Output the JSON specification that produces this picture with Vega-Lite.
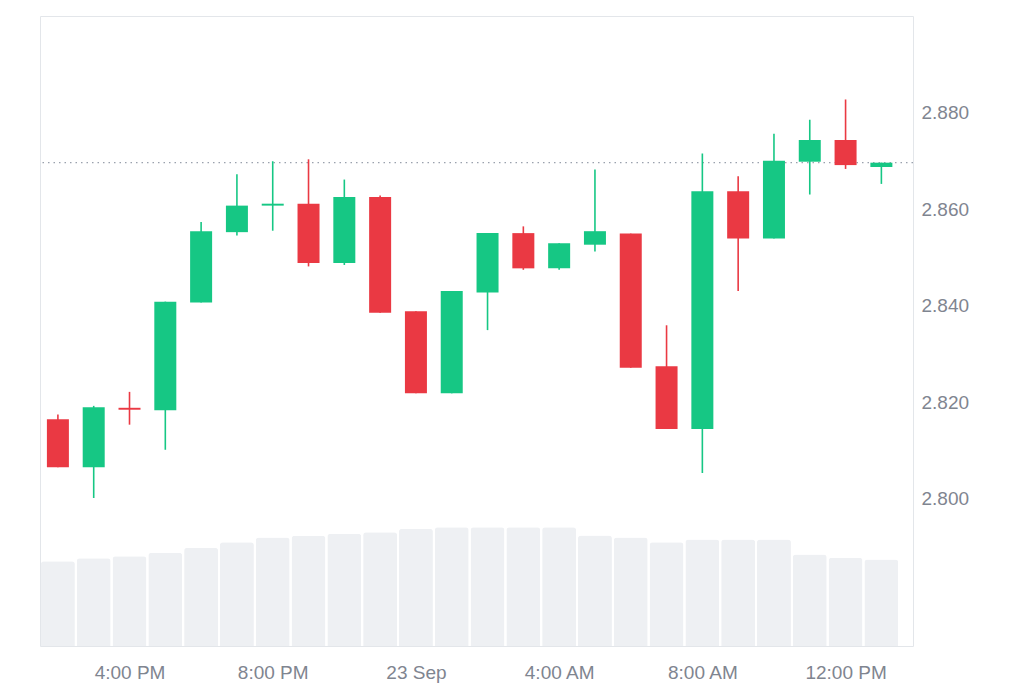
{
  "$schema": "https://vega.github.io/schema/vega-lite/v6.json",
  "autosize": {"type": "none"},
  "width": 873,
  "height": 630,
  "padding": {"left": 40, "top": 16, "right": 111, "bottom": 37},
  "background": "#ffffff",
  "config": {
    "font": "Liberation Sans",
    "view": {"stroke": "#e3e6ea", "strokeWidth": 1}
  },
  "datasets": {
    "candles": [
      {"t": "2024-09-22T14:00:00", "open": 2.8165, "high": 2.8175, "low": 2.8066, "close": 2.8066, "volume": 84.8},
      {"t": "2024-09-22T15:00:00", "open": 2.8066, "high": 2.8193, "low": 2.8002, "close": 2.8190, "volume": 87.8},
      {"t": "2024-09-22T16:00:00", "open": 2.8189, "high": 2.8222, "low": 2.8154, "close": 2.8185, "volume": 89.8},
      {"t": "2024-09-22T17:00:00", "open": 2.8184, "high": 2.8409, "low": 2.8102, "close": 2.8409, "volume": 93.2},
      {"t": "2024-09-22T18:00:00", "open": 2.8407, "high": 2.8574, "low": 2.8407, "close": 2.8555, "volume": 98.2},
      {"t": "2024-09-22T19:00:00", "open": 2.8553, "high": 2.8673, "low": 2.8546, "close": 2.8608, "volume": 103.8},
      {"t": "2024-09-22T20:00:00", "open": 2.8608, "high": 2.8700, "low": 2.8556, "close": 2.8612, "volume": 108.5},
      {"t": "2024-09-22T21:00:00", "open": 2.8612, "high": 2.8704, "low": 2.8482, "close": 2.8489, "volume": 110.2},
      {"t": "2024-09-22T22:00:00", "open": 2.8489, "high": 2.8662, "low": 2.8485, "close": 2.8626, "volume": 112.2},
      {"t": "2024-09-22T23:00:00", "open": 2.8626, "high": 2.8629, "low": 2.8386, "close": 2.8386, "volume": 113.8},
      {"t": "2024-09-23T00:00:00", "open": 2.8389, "high": 2.8389, "low": 2.8219, "close": 2.8219, "volume": 117.2},
      {"t": "2024-09-23T01:00:00", "open": 2.8219, "high": 2.8431, "low": 2.8219, "close": 2.8431, "volume": 118.8},
      {"t": "2024-09-23T02:00:00", "open": 2.8428, "high": 2.8551, "low": 2.8350, "close": 2.8551, "volume": 118.8},
      {"t": "2024-09-23T03:00:00", "open": 2.8551, "high": 2.8565, "low": 2.8475, "close": 2.8478, "volume": 118.8},
      {"t": "2024-09-23T04:00:00", "open": 2.8478, "high": 2.8530, "low": 2.8475, "close": 2.8530, "volume": 118.8},
      {"t": "2024-09-23T05:00:00", "open": 2.8527, "high": 2.8683, "low": 2.8513, "close": 2.8555, "volume": 110.5},
      {"t": "2024-09-23T06:00:00", "open": 2.8550, "high": 2.8550, "low": 2.8272, "close": 2.8272, "volume": 108.5},
      {"t": "2024-09-23T07:00:00", "open": 2.8275, "high": 2.8360, "low": 2.8145, "close": 2.8145, "volume": 103.8},
      {"t": "2024-09-23T08:00:00", "open": 2.8145, "high": 2.8716, "low": 2.8054, "close": 2.8638, "volume": 106.5},
      {"t": "2024-09-23T09:00:00", "open": 2.8638, "high": 2.8669, "low": 2.8431, "close": 2.8540, "volume": 106.5},
      {"t": "2024-09-23T10:00:00", "open": 2.8540, "high": 2.8757, "low": 2.8540, "close": 2.8701, "volume": 106.5},
      {"t": "2024-09-23T11:00:00", "open": 2.8699, "high": 2.8786, "low": 2.8631, "close": 2.8744, "volume": 91.5},
      {"t": "2024-09-23T12:00:00", "open": 2.8744, "high": 2.8828, "low": 2.8684, "close": 2.8692, "volume": 88.2},
      {"t": "2024-09-23T13:00:00", "open": 2.8688, "high": 2.8697, "low": 2.8653, "close": 2.8697, "volume": 86.5}
    ],
    "lastPrice": [{"price": 2.8697}]
  },
  "data": {"name": "candles"},
  "layer": [
    {
      "mark": {"type": "bar", "size": 34, "color": "#eef0f3", "cornerRadiusTopLeft": 3, "cornerRadiusTopRight": 3},
      "encoding": {
        "x": {
          "field": "t",
          "type": "temporal",
          "title": null,
          "scale": {
            "domain": [
              {"year": 2024, "month": 9, "date": 22, "hours": 13, "minutes": 30},
              {"year": 2024, "month": 9, "date": 23, "hours": 13, "minutes": 53}
            ],
            "padding": 0
          },
          "axis": {
            "values": [
              {"year": 2024, "month": 9, "date": 22, "hours": 16},
              {"year": 2024, "month": 9, "date": 22, "hours": 20},
              {"year": 2024, "month": 9, "date": 23, "hours": 0},
              {"year": 2024, "month": 9, "date": 23, "hours": 4},
              {"year": 2024, "month": 9, "date": 23, "hours": 8},
              {"year": 2024, "month": 9, "date": 23, "hours": 12}
            ],
            "labelExpr": "hours(datum.value) == 0 ? timeFormat(datum.value, '%-d %b') : timeFormat(datum.value, '%-I:%M %p')",
            "grid": false,
            "ticks": false,
            "domain": false,
            "labelFontSize": 19,
            "labelColor": "#7f8590",
            "labelPadding": 17,
            "labelFlush": false
          }
        },
        "y": {"field": "volume", "type": "quantitative", "scale": {"domain": [0, 630], "nice": false, "padding": 0}, "axis": null}
      }
    },
    {
      "layer": [
        {
          "data": {"name": "lastPrice"},
          "mark": {"type": "rule", "color": "#9aa1ad", "strokeDash": [1.5, 4], "strokeWidth": 1.2},
          "encoding": {"y": {"field": "price", "type": "quantitative"}}
        },
        {
          "mark": {"type": "rule", "strokeWidth": 1.6},
          "encoding": {
            "x": {"field": "t", "type": "temporal"},
            "y": {"field": "low", "type": "quantitative"},
            "y2": {"field": "high"},
            "color": {"condition": {"test": "datum.open > datum.close", "value": "#ea3943"}, "value": "#16c784"}
          }
        },
        {
          "mark": {"type": "bar", "size": 22},
          "encoding": {
            "x": {"field": "t", "type": "temporal"},
            "y": {"field": "open", "type": "quantitative"},
            "y2": {"field": "close"},
            "color": {"condition": {"test": "datum.open > datum.close", "value": "#ea3943"}, "value": "#16c784"}
          }
        }
      ],
      "encoding": {
        "y": {
          "type": "quantitative",
          "scale": {"domain": [2.76953, 2.9001], "nice": false, "zero": false, "padding": 0},
          "axis": {
            "orient": "right",
            "title": null,
            "values": [2.80, 2.82, 2.84, 2.86, 2.88],
            "format": ".3f",
            "ticks": false,
            "domain": false,
            "gridColor": "#eceef1",
            "gridWidth": 1,
            "labelFontSize": 19,
            "labelColor": "#7f8590",
            "labelPadding": 8
          }
        }
      }
    }
  ],
  "resolve": {"scale": {"y": "independent"}}
}
